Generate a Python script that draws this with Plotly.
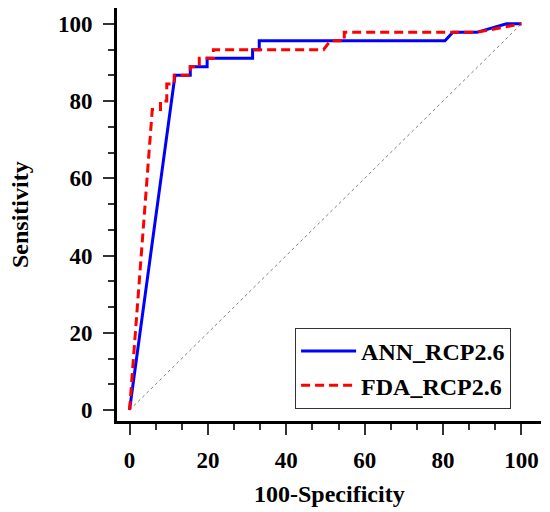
import plotly.graph_objects as go

# ROC curve points (100-Specificity, Sensitivity)
ann_x = [0, 11.6, 15.5, 15.5, 19.8, 19.8, 31.4, 31.4, 33.1, 33.1, 80.5, 82.5, 88.6, 96.2, 100]
ann_y = [0, 86.7, 86.7, 88.9, 88.9, 91.1, 91.1, 93.3, 93.3, 95.6, 95.6, 97.8, 97.8, 100, 100]

fda_x = [0, 5.8, 7.9, 7.9, 9.5, 9.5, 11.4, 11.4, 15.5, 15.5, 17.8, 17.8, 21.4, 21.4, 49.5, 51.2, 54.8, 54.8, 88.6, 100]
fda_y = [0, 77.8, 77.8, 80, 80, 84.4, 84.4, 86.7, 86.7, 88.9, 88.9, 91.1, 91.1, 93.3, 93.3, 95.6, 95.6, 97.8, 97.8, 100]

diag = [0, 100]
tick_vals = [0, 20, 40, 60, 80, 100]
tick_text = ["0", "20", "40", "60", "80", "100"]

FONT = "Liberation Serif, Times New Roman, serif"

fig = go.Figure()
fig.add_trace(go.Scatter(x=diag, y=diag, mode="lines", showlegend=False,
                         line=dict(color="#808080", width=1, dash="dot")))
fig.add_trace(go.Scatter(x=ann_x, y=ann_y, mode="lines", name="ANN_RCP2.6",
                         line=dict(color="#0000ff", width=3)))
fig.add_trace(go.Scatter(x=fda_x, y=fda_y, mode="lines", name="FDA_RCP2.6",
                         line=dict(color="#ff0000", width=3, dash="9px,5px")))

axis_common = dict(
    showline=True, linecolor="black", linewidth=3,
    showgrid=False, zeroline=False, automargin=False,
    ticks="outside", ticklen=11, tickwidth=1.5, tickcolor="#333333",
    tickvals=tick_vals, ticktext=tick_text,
    tickfont=dict(family=FONT, size=23, color="black", weight="bold"),
    minor=dict(dtick=20/3, tick0=0, ticks="outside", ticklen=6, tickwidth=1.5, tickcolor="#333333"),
)

title_font = dict(family=FONT, size=24, color="black", weight="bold")

fig.update_layout(
    width=550, height=512,
    margin=dict(l=109, r=17, t=0, b=99),
    paper_bgcolor="white", plot_bgcolor="white",
    xaxis=dict(range=[-3.2, 105], ticklabelstandoff=5, **axis_common),
    yaxis=dict(range=[-2.85, 104.1], ticklabelstandoff=6, **axis_common),
    legend=dict(x=0.42, y=0.2252, xanchor="left", yanchor="top",
                bordercolor="#333333", borderwidth=1, bgcolor="white",
                font=dict(family=FONT, size=24, color="black", weight="bold"),
                itemwidth=55, tracegroupgap=0),
    annotations=[
        dict(text="100-Specificity", xref="paper", yref="paper", x=0.502, y=-0.177,
             xanchor="center", yanchor="middle", showarrow=False, font=title_font),
        dict(text="Sensitivity", xref="paper", yref="paper", x=-0.229, y=0.501,
             xanchor="center", yanchor="middle", showarrow=False, textangle=-90,
             font=title_font),
    ],
)

fig.write_html("out.html")
